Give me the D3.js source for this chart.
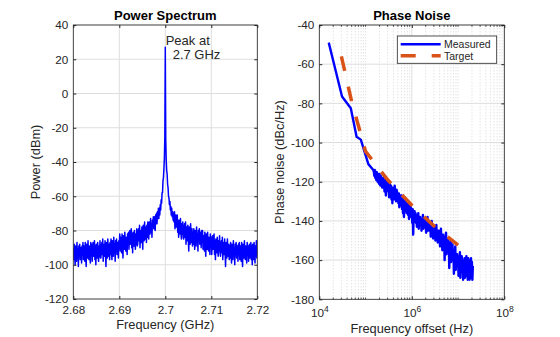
<!DOCTYPE html>
<html>
<head>
<meta charset="utf-8">
<script src="https://cdn.jsdelivr.net/npm/d3@7"></script>
<style>
  body { margin: 0; background: #fff; }
  svg { display: block; }
  svg text { font-family: "Liberation Sans", Arial, Helvetica, sans-serif; }
  .tick text { fill: #262626; font-size: 11.7px; }
  .lbl { fill: #262626; font-size: 12.8px; }
  .ttl { fill: #000; font-size: 13px; font-weight: bold; }
  .leg { fill: #262626; font-size: 10.5px; }
</style>
</head>
<body>
<div id="fig"></div>
<script>
// ---- power spectrum: 401 bins, 0.1 MHz apart from 2.68 GHz ----
const specStart = 2.68;
const specStep = 0.0001;
const specPower = [
  -90,-97,-88,-95,-100,-89,-92,-98,-87,-96,-91,-101,-89,-94,-88,-97,-95,-90,-99,-89,
  -94,-87,-97,-89,-91,-98,-87,-95,-101,-88,-90,-96,-86,-94,-97,-89,-92,-99,-87,-93,
  -88,-98,-90,-87,-95,-93,-86,-97,-89,-100,-88,-91,-96,-87,-94,-98,-89,-95,-86,-96,
  -96,-89,-87,-94,-85,-98,-90,-88,-95,-86,-93,-101,-87,-89,-96,-85,-92,-95,-88,-97,
  -87,-94,-85,-92,-97,-86,-89,-95,-84,-93,-88,-98,-86,-91,-85,-94,-92,-87,-96,-86,
  -89,-82,-92,-84,-86,-93,-82,-90,-96,-83,-85,-91,-81,-89,-92,-84,-87,-94,-82,-88,
  -81,-91,-83,-80,-88,-86,-79,-90,-82,-93,-81,-84,-89,-80,-87,-91,-82,-88,-79,-89,
  -88,-81,-79,-86,-77,-90,-82,-80,-87,-78,-83,-91,-77,-79,-86,-75,-82,-85,-78,-87,
  -77,-84,-75,-81,-85,-75,-78,-82,-73,-81,-76,-84,-74,-77,-72,-79,-77,-72,-80,-71,
  -76,-70,-76,-69,-73,-67,-73,-67,-71,-65,-68,-62,-64,-58,-58,-51,-49,-44,-38,-25,
  27,-27,-39,-45,-47,-53,-55,-60,-61,-65,-63,-68,-66,-71,-67,-72,-69,-74,-70,-75,
  -69,-79,-72,-71,-78,-77,-71,-81,-74,-84,-74,-77,-82,-73,-81,-85,-76,-82,-75,-84,
  -85,-78,-76,-84,-75,-88,-80,-78,-86,-77,-85,-92,-78,-80,-88,-76,-83,-87,-79,-89,
  -81,-88,-79,-86,-91,-80,-83,-89,-78,-87,-82,-92,-80,-85,-79,-88,-86,-81,-90,-80,
  -87,-80,-91,-83,-85,-92,-81,-89,-95,-82,-85,-91,-81,-89,-92,-84,-87,-94,-82,-88,
  -84,-94,-86,-83,-91,-89,-82,-94,-86,-97,-85,-88,-93,-84,-91,-95,-86,-92,-83,-93,
  -95,-88,-86,-93,-84,-97,-89,-87,-94,-85,-93,-101,-87,-89,-96,-85,-92,-95,-88,-97,
  -89,-96,-87,-94,-99,-88,-91,-97,-86,-95,-90,-100,-88,-93,-87,-96,-94,-89,-98,-88,
  -94,-87,-97,-89,-91,-98,-87,-95,-101,-88,-90,-96,-86,-94,-97,-89,-92,-99,-87,-93,
  -89,-98,-90,-88,-96,-93,-87,-97,-89,-100,-88,-91,-97,-87,-94,-99,-89,-95,-86,-96,
  -91
];
const peakFreq = 2.7;
const peakPower = 27;
const specXTicks = [2.68, 2.69, 2.7, 2.71, 2.72];
const specYTicks = [-120, -100, -80, -60, -40, -20, 0, 20, 40];

// ---- phase noise ----
// close-in part, read point by point
const pnLowFreq = [16000, 31000, 48000, 64000, 79000, 115000, 147000];
const pnLowMeas = [-49, -76.5, -82.5, -97, -98.5, -111, -114];
// far-out part, bins every 0.01 decade starting at 10^5.18 Hz
const pnLogStart = 5.18;
const pnLogStep = 0.01;
const pnHighMeas = [
  -115,-117,-114,-118,-116,-119,-115,-117,-120,-116,
  -117,-121,-116,-119,-122,-117,-120,-118,-123,-119,
  -118,-123,-120,-125,-119,-122,-127,-120,-123,-121,
  -120,-125,-122,-128,-121,-124,-126,-122,-129,-123,
  -131,-123,-126,-124,-129,-122,-127,-125,-130,-124,
  -125,-129,-127,-131,-126,-133,-128,-127,-132,-129,
  -127,-134,-129,-136,-130,-138,-131,-128,-135,-132,
  -131,-136,-133,-130,-137,-134,-139,-132,-136,-135,
  -133,-138,-135,-141,-134,-147,-137,-139,-135,-140,
  -136,-141,-137,-143,-138,-140,-136,-144,-139,-141,
  -138,-142,-140,-145,-139,-141,-137,-144,-140,-143,
  -139,-143,-141,-146,-140,-142,-138,-145,-141,-144,
  -141,-145,-142,-148,-143,-140,-146,-144,-149,-143,
  -143,-147,-144,-150,-145,-142,-148,-146,-151,-145,
  -145,-150,-146,-153,-147,-144,-151,-148,-155,-147,
  -147,-152,-149,-160,-148,-151,-146,-157,-150,-153,
  -149,-156,-151,-164,-152,-155,-150,-161,-153,-157,
  -152,-160,-155,-167,-156,-158,-153,-165,-157,-161,
  -157,-163,-159,-168,-158,-162,-156,-169,-160,-164,
  -158,-166,-160,-170,-161,-167,-159,-169,-162,-168,
  -158,-168,-161,-170,-159,-167,-162,-170,-160,-166,
  -159,-169,-161,-170,-163
];
const targetFreq = [3e4, 5e4, 1e5, 3e5, 1e6, 3e6, 1e7];
const targetLevel = [-56, -79, -104.5, -119, -132, -142.5, -152.3];
const pnXTicks = [1e4, 1e6, 1e8];
const pnYTicks = [-180, -160, -140, -120, -100, -80, -60, -40];

const INK = "#262626";
const BLUE = "#0000ff";
const ORANGE = "#d95319";

const svg = d3.select("#fig").append("svg")
  .attr("width", 560)
  .attr("height", 337);

let clipId = 0;

// grid + clipped drawing layer for one subplot
function add_frame(x, y, xTicks, yTicks, xMinor) {
  const [x0, x1] = x.range();
  const [yb, yt] = y.range();
  const g = svg.append("g");
  if (xMinor) {
    g.selectAll(".minor").data(xMinor).join("line")
      .attr("class", "minor")
      .attr("x1", x).attr("x2", x)
      .attr("y1", yb).attr("y2", yt)
      .attr("stroke", "#cdcdcd")
      .attr("stroke-width", 0.8)
      .attr("stroke-dasharray", "1,2");
  }
  g.selectAll(".gx").data(xTicks).join("line")
    .attr("class", "gx")
    .attr("x1", x).attr("x2", x)
    .attr("y1", yb).attr("y2", yt)
    .attr("stroke", "#dedede");
  g.selectAll(".gy").data(yTicks).join("line")
    .attr("class", "gy")
    .attr("x1", x0).attr("x2", x1)
    .attr("y1", y).attr("y2", y)
    .attr("stroke", "#dedede");

  const id = "clip" + clipId++;
  svg.append("clipPath").attr("id", id)
    .append("rect")
    .attr("x", x0).attr("y", yt)
    .attr("width", x1 - x0).attr("height", yb - yt);
  return svg.append("g").attr("clip-path", `url(#${id})`);
}

// box, inward ticks on all four sides, tick labels
function add_box(x, y, xTicks, yTicks, xFmt, yFmt, xPad) {
  const [x0, x1] = x.range();
  const [yb, yt] = y.range();
  const g = svg.append("g");
  const tidy = a => a.attr("color", INK).select(".domain").remove();

  g.append("g").attr("class", "xaxis").attr("transform", `translate(0,${yb})`)
    .call(d3.axisBottom(x).tickValues(xTicks).tickFormat(xFmt)
      .tickSizeInner(-3).tickSizeOuter(0).tickPadding(xPad))
    .call(tidy);
  g.append("g").attr("transform", `translate(0,${yt})`)
    .call(d3.axisTop(x).tickValues(xTicks).tickFormat("")
      .tickSizeInner(-3).tickSizeOuter(0))
    .call(tidy);
  g.append("g").attr("transform", `translate(${x0},0)`)
    .call(d3.axisLeft(y).tickValues(yTicks).tickFormat(yFmt)
      .tickSizeInner(-3).tickSizeOuter(0).tickPadding(5))
    .call(tidy);
  g.append("g").attr("transform", `translate(${x1},0)`)
    .call(d3.axisRight(y).tickValues(yTicks).tickFormat("")
      .tickSizeInner(-3).tickSizeOuter(0))
    .call(tidy);

  g.append("rect")
    .attr("x", x0).attr("y", yt)
    .attr("width", x1 - x0).attr("height", yb - yt)
    .attr("fill", "none")
    .attr("stroke", INK)
    .attr("stroke-width", 0.8);
  return g;
}

// ================= left: power spectrum =================
const sx = d3.scaleLinear().domain([2.68, 2.72]).range([73.3, 257.3]);
const sy = d3.scaleLinear().domain([-120, 40]).range([299, 25]);

const specLayer = add_frame(sx, sy, specXTicks, specYTicks);
specLayer.append("path")
  .datum(specPower.map((p, i) => [specStart + i * specStep, p]))
  .attr("fill", "none")
  .attr("stroke", BLUE)
  .attr("stroke-width", 1.5)
  .attr("stroke-linejoin", "round")
  .attr("d", d3.line().x(d => sx(d[0])).y(d => sy(d[1])));

add_box(sx, sy, specXTicks, specYTicks,
  d => String(+d.toFixed(2)), d => String(d), 6.7);

svg.append("text").attr("class", "ttl")
  .attr("x", 165.3).attr("y", 20).attr("text-anchor", "middle")
  .text("Power Spectrum");
svg.append("text").attr("class", "lbl")
  .attr("x", 165.3).attr("y", 329).attr("text-anchor", "middle")
  .text("Frequency (GHz)");
svg.append("text").attr("class", "lbl")
  .attr("transform", "translate(40,162) rotate(-90)")
  .attr("text-anchor", "middle")
  .text("Power (dBm)");

const note = svg.append("text")
  .attr("fill", INK)
  .style("font-size", "13px");
note.append("tspan")
  .attr("x", sx(peakFreq) + 0.4).attr("y", sy(peakPower) - 2.3)
  .text("Peak at");
note.append("tspan")
  .attr("x", sx(peakFreq) + 7.4).attr("y", sy(peakPower) + 11.7)
  .text(`${peakFreq} GHz`);

// ================= right: phase noise =================
const px = d3.scaleLog().domain([1e4, 1e8]).range([319.3, 504.3]);
const py = d3.scaleLinear().domain([-180, -40]).range([299.3, 25]);

const pnMinor = [];
for (let e = 4; e < 8; e++) {
  for (let m = 1; m < 10; m++) {
    const v = m * Math.pow(10, e);
    if (!pnXTicks.includes(v)) pnMinor.push(v);
  }
}

const pnLayer = add_frame(px, py, pnXTicks, pnYTicks, pnMinor);

const measured = pnLowFreq.map((f, i) => [f, pnLowMeas[i]])
  .concat(pnHighMeas.map((v, i) => [Math.pow(10, pnLogStart + i * pnLogStep), v]));
const target = targetFreq.map((f, i) => [f, targetLevel[i]]);
const pnLine = d3.line().x(d => px(d[0])).y(d => py(d[1]));

pnLayer.append("path")
  .datum(measured)
  .attr("fill", "none")
  .attr("stroke", BLUE)
  .attr("stroke-width", 2.4)
  .attr("stroke-linejoin", "round")
  .attr("d", pnLine);
pnLayer.append("path")
  .datum(target)
  .attr("fill", "none")
  .attr("stroke", ORANGE)
  .attr("stroke-width", 3.5)
  .attr("stroke-dasharray", "15,16")
  .attr("d", pnLine);

const pnBox = add_box(px, py, pnXTicks, pnYTicks, () => "", d => String(d), 9.1);

// 10^n labels under the log axis
pnBox.select(".xaxis").selectAll(".tick text").each(function (d) {
  const t = d3.select(this);
  t.append("tspan").text("10");
  t.append("tspan").attr("dy", -5).style("font-size", "8.5px")
    .text(Math.round(Math.log10(d)));
});

// minor log ticks along top and bottom
[[299.3, -1.8], [25, 1.8]].forEach(([yy, len]) => {
  pnBox.append("g").selectAll("line").data(pnMinor).join("line")
    .attr("x1", px).attr("x2", px)
    .attr("y1", yy).attr("y2", yy + len)
    .attr("stroke", INK)
    .attr("stroke-width", 0.8);
});

svg.append("text").attr("class", "ttl")
  .attr("x", 411.8).attr("y", 20).attr("text-anchor", "middle")
  .text("Phase Noise");
svg.append("text").attr("class", "lbl")
  .attr("x", 411.8).attr("y", 332.7).attr("text-anchor", "middle")
  .text("Frequency offset (Hz)");
svg.append("text").attr("class", "lbl")
  .attr("transform", "translate(284,162) rotate(-90)")
  .attr("text-anchor", "middle")
  .text("Phase noise (dBc/Hz)");

// legend
const legend = svg.append("g");
legend.append("rect")
  .attr("x", 397.3).attr("y", 36)
  .attr("width", 99.4).attr("height", 27.3)
  .attr("fill", "#fff")
  .attr("stroke", INK)
  .attr("stroke-width", 0.8);
[
  { name: "Measured", color: BLUE, width: 2.4, dash: null, y: 44.2 },
  { name: "Target", color: ORANGE, width: 3.5, dash: "15,16", y: 55.7 }
].forEach(it => {
  legend.append("line")
    .attr("x1", 400.7).attr("x2", 440.7)
    .attr("y1", it.y).attr("y2", it.y)
    .attr("stroke", it.color)
    .attr("stroke-width", it.width)
    .attr("stroke-dasharray", it.dash);
  legend.append("text").attr("class", "leg")
    .attr("x", 444).attr("y", it.y + 3.8)
    .text(it.name);
});
</script>
</body>
</html>
